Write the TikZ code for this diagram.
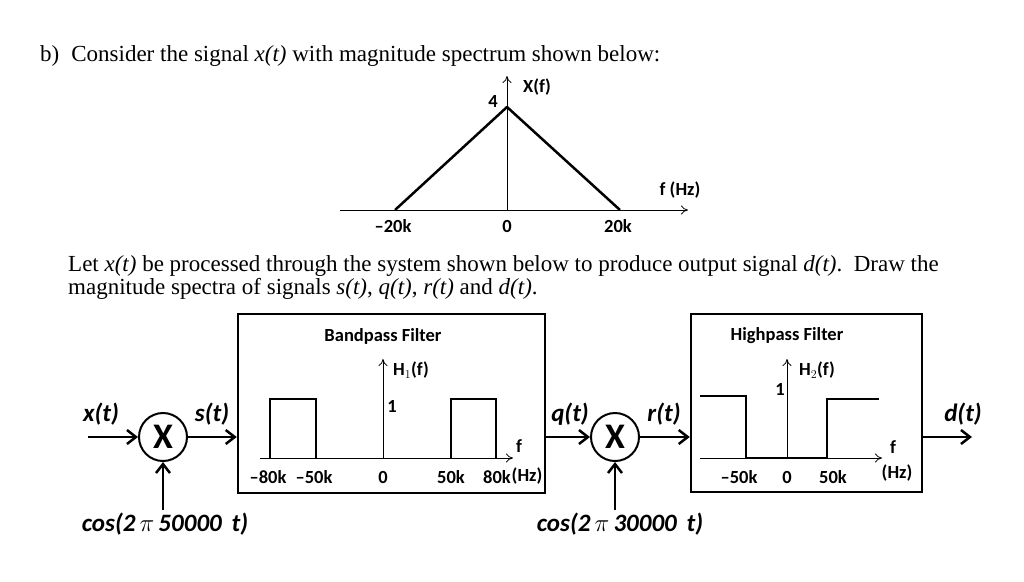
\documentclass[tikz,border=0pt]{standalone}
\usepackage{fontspec}
\setmainfont{Liberation Serif}
\newfontfamily\calfont{Carlito}
\usetikzlibrary{arrows.meta}
\begin{document}
\begin{tikzpicture}[x=1pt,y=-1pt,
  lab/.style={font=\calfont\bfseries\fontsize{18.5}{20}\selectfont,inner sep=1pt},
  sig/.style={font=\calfont\bfseries\itshape\fontsize{25}{26}\selectfont,inner sep=1pt},
  ser/.style={font=\fontsize{23}{25}\selectfont,anchor=base west,inner sep=0pt},
  box/.style={draw,line width=2.5pt,inner sep=0pt},
  mult/.style={draw,circle,line width=2pt,minimum size=48pt,inner sep=0pt,font=\calfont\bfseries\fontsize{36}{36}\selectfont},
  ax/.style={line width=0.8pt,-{To[length=7pt,width=9pt]}},
  thk/.style={line width=2.5pt},
  sarr/.style={line width=2.5pt,-{Straight Barb[length=9pt,width=14pt]}}]
\useasboundingbox (0,0) rectangle (1024,581);
% text
\node[ser] (t1) at (40,61) {b)\hspace{12pt}Consider the signal \textit{x(t)} with magnitude spectrum shown below:};
\node[ser] (t2) at (68,271) {Let \textit{x(t)} be processed through the system shown below to produce output signal \textit{d(t)}.\ \ Draw the};
\node[ser] (t3) at (68,294) {magnitude spectra of signals \textit{s(t)}, \textit{q(t)}, \textit{r(t)} and \textit{d(t)}.};
% top spectrum
\coordinate (a0) at (340,210); \coordinate (a1) at (688,210);
\coordinate (v0) at (507,210); \coordinate (v1) at (507,76);
\draw[ax] (a0) -- (a1);
\draw[ax] (v0) -- (v1);
\coordinate (p1) at (395,210); \coordinate (p2) at (507,107); \coordinate (p3) at (620,210);
\draw[thk,line join=round] (p1) -- (p2) -- (p3);
\node[lab] (l4) at (493,101) {4};
\node[lab] (lxf) at (537,87) {X(f)};
\node[lab] (lfhz) at (680,190) {f (Hz)};
\node[lab] (lm20) at (393,226) {–20k};
\node[lab] (l0) at (507,226) {0};
\node[lab] (l20) at (618,226) {20k};
% blocks
\node[box,minimum width=307pt,minimum height=179pt] (bp) at (391.5,403.5) {};
\node[box,minimum width=231pt,minimum height=178pt] (hp) at (806.5,403) {};
\node[mult] (m1) at (163,437) {X};
\node[mult] (m2) at (615,437) {X};
\coordinate (xin) at (88,437);
\coordinate (c1) at (163,510);
\coordinate (c2) at (615,510);
\coordinate (dout) at (972,437);
\draw[sarr] (xin) -- (m1);
\draw[sarr] (m1) -- (m1 -| bp.west);
\draw[sarr] (bp.east |- m2) -- (m2);
\draw[sarr] (m2) -- (m2 -| hp.west);
\draw[sarr] (hp.east |- m2) -- (dout);
\draw[sarr] (c1) -- (m1);
\draw[sarr] (c2) -- (m2);
\node[sig] (lx) at (101,414) {x(t)};
\node[sig] (ls) at (212,414) {s(t)};
\node[sig] (lq) at (570,414) {q(t)};
\node[sig] (lr) at (664,414) {r(t)};
\node[sig] (ld) at (963,414) {d(t)};
\node[sig] (lc1) at (165,524) {cos(2\,$\pi$\,50000\, t)};
\node[sig] (lc2) at (620,524) {cos(2\,$\pi$\,30000\, t)};
% bandpass internals
\node[lab] (bpt) at (383,336) {Bandpass Filter};
\draw[ax] (260,458) coordinate (b0) -- (513,458) coordinate (b1);
\draw[ax] (383,458) coordinate (bv0) -- (383,359) coordinate (bv1);
\draw[thk] (270,458) -- (270,399) -- (316,399) -- (316,458);
\draw[thk] (451,458) -- (451,399) -- (496,399) -- (496,458);
\node[lab] (h1) at (411,370) {H$_1$(f)};
\node[lab] (one1) at (392,406) {1};
\node[lab] (bf) at (519,446) {f};
\node[lab] (bhz) at (527,476) {(Hz)};
\node[lab] (b80m) at (268,477) {–80k};
\node[lab] (b50m) at (314,477) {–50k};
\node[lab] (b0l) at (383,477) {0};
\node[lab] (b50) at (451,477) {50k};
\node[lab] (b80) at (497,477) {80k};
% highpass internals
\node[lab] (hpt) at (787,336) {Highpass Filter};
\draw[ax] (700,458) -- (882,458);
\draw[ax] (787,458) -- (787,359);
\draw[thk] (700,396) -- (746,396) -- (746,458) -- (827,458) -- (827,399) -- (879,399);
\node[lab] (h2) at (817,370) {H$_2$(f)};
\node[lab] (one2) at (780,389) {1};
\node[lab] (hf) at (893,447) {f};
\node[lab] (hhz) at (897,473) {(Hz)};
\node[lab] (h50m) at (739,477) {–50k};
\node[lab] (h0) at (787,477) {0};
\node[lab] (h50) at (833,477) {50k};
\end{tikzpicture}
\end{document}
